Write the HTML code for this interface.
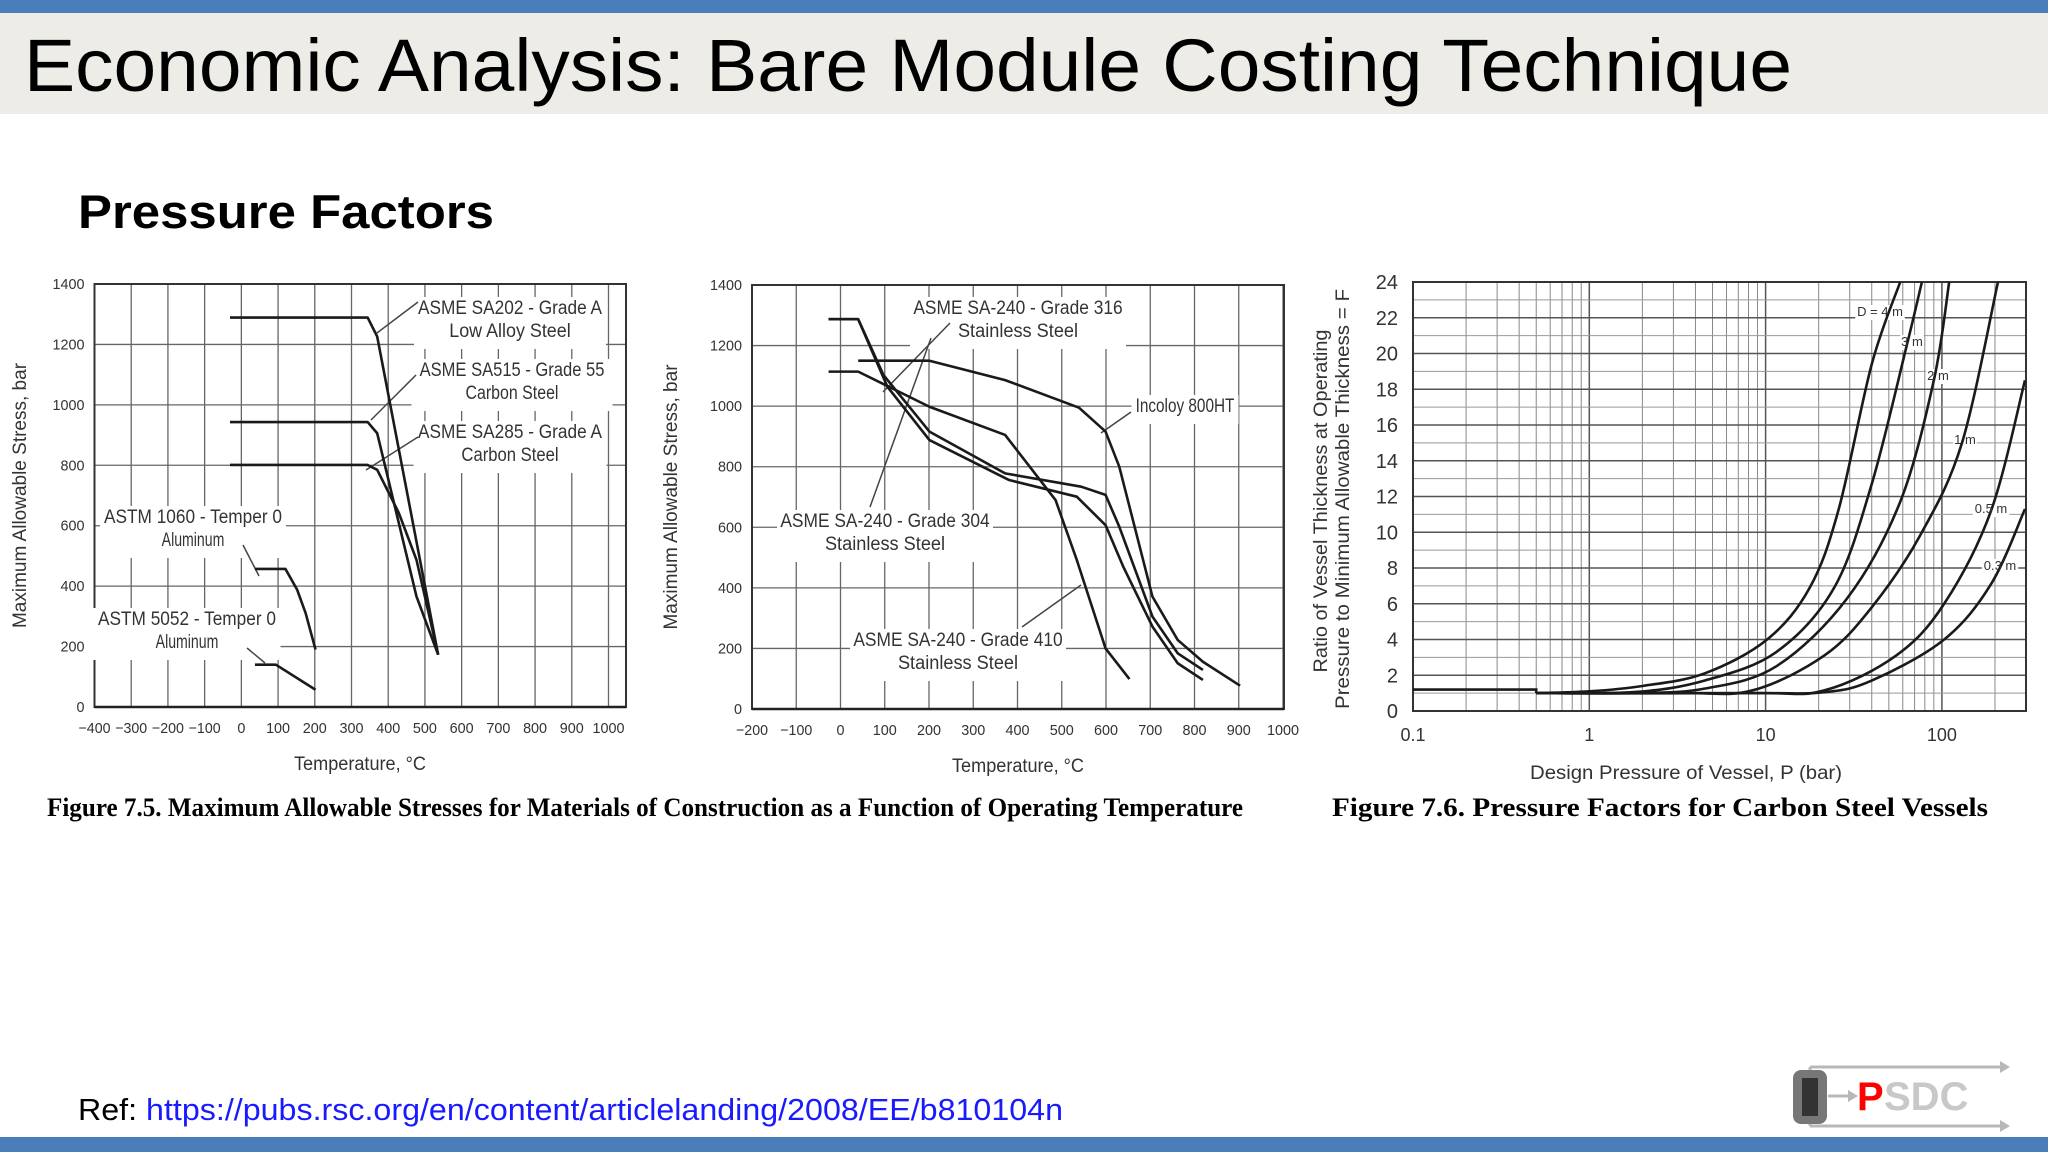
<!DOCTYPE html>
<html><head><meta charset="utf-8"><style>
html,body{margin:0;padding:0;background:#fff;}
svg{display:block;font-family:"Liberation Sans",sans-serif;}
</style></head><body>
<svg id="s" width="2048" height="1152" viewBox="0 0 2048 1152" xmlns="http://www.w3.org/2000/svg">
<rect x="0" y="0" width="2048" height="13" fill="#4a7ebb"/>
<rect x="0" y="13" width="2048" height="101" fill="#edece6"/>
<text x="24" y="91" font-size="74" fill="#000" textLength="1768" lengthAdjust="spacingAndGlyphs">Economic Analysis: Bare Module Costing Technique</text>
<text x="78" y="228" font-size="47" font-weight="bold" fill="#000" textLength="416" lengthAdjust="spacingAndGlyphs">Pressure Factors</text>
<text x="47" y="816" font-family="Liberation Serif, serif" font-size="26" font-weight="bold" textLength="1196" lengthAdjust="spacingAndGlyphs">Figure 7.5. Maximum Allowable Stresses for Materials of Construction as a Function of  Operating Temperature</text>
<text x="1332" y="816" font-family="Liberation Serif, serif" font-size="26" font-weight="bold" textLength="656" lengthAdjust="spacingAndGlyphs">Figure 7.6. Pressure Factors for Carbon Steel Vessels</text>
<text x="78" y="1120" font-size="31" textLength="985" lengthAdjust="spacingAndGlyphs">Ref: <tspan fill="#1a1aff">https://pubs.rsc.org/en/content/articlelanding/2008/EE/b810104n</tspan></text>
<rect x="0" y="1137" width="2048" height="15" fill="#4a7ebb"/>
<g>
<path d="M1810 1067 H2000 M1810 1126 H2000 M1810 1067 V1126 M1828 1096 H1850" stroke="#b8b8b8" stroke-width="3" fill="none"/>
<polygon points="2000,1061 2010,1067 2000,1073" fill="#b8b8b8"/><polygon points="2000,1120 2010,1126 2000,1132" fill="#b8b8b8"/><polygon points="1848,1090 1858,1096 1848,1102" fill="#b8b8b8"/>
<rect x="1793" y="1070" width="34" height="54" rx="8" fill="#777"/><rect x="1802" y="1078" width="16" height="38" fill="#333"/>
<text x="1857" y="1110" font-size="40" font-weight="bold" fill="#f00">P</text><text x="1884" y="1110" font-size="40" font-weight="bold" fill="#c8c8c8">SDC</text>
</g>
<g id="c1"></g>
<g id="c2"></g>
<g id="c3"></g>
</svg>
<script>
// Chart 1 data
const c1Ticks=[-400,-300,-200,-100,0,100,200,300,400,500,600,700,800,900,1000];
const c1YTicks=[0,200,400,600,800,1000,1200,1400];
const sa202T=[-31,344,370,536]; const sa202S=[1289,1289,1226,173];
const sa515T=[-31,344,370,477,536]; const sa515S=[943,943,906,366,173];
const sa285T=[-31,344,370,429,477,536]; const sa285S=[801,801,785,642,487,173];
const a1060T=[37,120,152,175,202]; const a1060S=[457,457,388,311,190];
const a5052T=[37,94,202]; const a5052S=[140,140,57];
// Chart 2 data
const c2Ticks=[-200,-100,0,100,200,300,400,500,600,700,800,900,1000];
const c2YTicks=[0,200,400,600,800,1000,1200,1400];
const incT=[40,201,372,539,599,630,705,762,819,903]; const incS=[1150,1150,1086,995,916,800,371,228,156,77];
const g316T=[-27,40,97,201,372,544,599,630,705,762,819]; const g316S=[1287,1287,1103,916,778,734,707,602,305,184,129];
const g304T=[-27,40,106,201,381,534,599,639,705,762,819]; const g304S=[1287,1287,1064,888,756,701,607,470,272,151,96];
const g410T=[-27,40,201,372,486,534,599,653]; const g410S=[1114,1114,998,905,690,492,200,99];
// Chart 3 data
const c3XTicks=[0.1,1,10,100]; const c3XLabels=["0.1","1","10","100"];
const c3YTicks=[0,2,4,6,8,10,12,14,16,18,20,22,24];
const flatP=[0.1,0.5]; const flatF=[1.2,1.2];
const d4P=[0.5,1,2,4.5,10.2,17.8,26,40,58]; const d4F=[1,1.1,1.4,2.1,4,6.9,11.3,19.4,24];
const d3P=[0.5,1.8,4.5,11.5,24.5,40,63,77]; const d3F=[1,1.06,1.7,3.3,6.9,12.7,20.4,24];
const d2P=[0.5,1.8,4.5,11.5,29,58,90,110]; const d2F=[1,1.0,1.25,2.5,6.3,11.7,18.5,24];
const d1P=[0.5,3.3,8.4,21.5,40,75,130,208]; const d1F=[1,1.0,1.15,3.1,5.8,9.8,15,24];
const d05P=[0.5,8.4,21.5,55,103,190,296]; const d05F=[1,1.0,1.15,3.1,6,11.2,18.5];
const d03P=[0.5,8.4,21.5,40,103,190,296]; const d03F=[1,1.0,1.05,1.7,4.0,7.1,11.3];

const NS="http://www.w3.org/2000/svg";
function mk(p,tag,at){const e=document.createElementNS(NS,tag);for(const k in at)e.setAttribute(k,at[k]);p.appendChild(e);return e;}
function txt(p,x,y,s,size,anchor,extra){const t=mk(p,'text',Object.assign({x:x,y:y,'font-size':size,'text-anchor':anchor||'start',fill:'#333'},extra||{}));t.textContent=s;return t;}
function smooth(pts){let d='M'+pts[0][0]+' '+pts[0][1];for(let i=0;i<pts.length-1;i++){const p0=pts[Math.max(0,i-1)],p1=pts[i],p2=pts[i+1],p3=pts[Math.min(pts.length-1,i+2)];const c1x=p1[0]+(p2[0]-p0[0])/6,c1y=p1[1]+(p2[1]-p0[1])/6,c2x=p2[0]-(p3[0]-p1[0])/6,c2y=p2[1]-(p3[1]-p1[1])/6;d+=' C'+c1x+' '+c1y+' '+c2x+' '+c2y+' '+p2[0]+' '+p2[1];}return d;}

function stressChart(g,X0,X1,XR,Y0,Y1,tmin,tmax,xt,yt,ytitleX,xtitleX,series,names,labels){
  const sx=t=>X0+(t-tmin)/(tmax-tmin)*(X1-X0); const sy=v=>Y0+(1400-v)/1400*(Y1-Y0);
  xt.forEach(t=>{const l=mk(g,'line',{x1:sx(t),x2:sx(t),y1:Y0,y2:Y1,stroke:'#666','stroke-width':1.3});});
  yt.forEach(v=>{const l=mk(g,'line',{x1:X0,x2:XR,y1:sy(v),y2:sy(v),stroke:'#666','stroke-width':1.3});});
  mk(g,'rect',{x:X0,y:Y0,width:XR-X0,height:Y1-Y0,fill:'none',stroke:'#333','stroke-width':2});
  mk(g,'line',{x1:X0,x2:XR,y1:Y1,y2:Y1,stroke:'#222','stroke-width':2.5});
  xt.forEach(t=>{const s=String(t).replace('-','\u2212');const e=txt(g,sx(t),Y1+26,s,15,'middle',{textLength:(s.length*8),lengthAdjust:'spacingAndGlyphs'});});
  yt.forEach(v=>{const e=txt(g,X0-10,sy(v)+5,String(v),15,'end',{textLength:(String(v).length*8),lengthAdjust:'spacingAndGlyphs'});});
  const yt1=txt(g,0,0,'Maximum Allowable Stress, bar',19,'middle',{transform:'translate('+ytitleX+','+((Y0+Y1)/2)+') rotate(-90)'});
  
  const xt1=txt(g,xtitleX,Y1+63,'Temperature, \u00B0C',19,'middle',{textLength:132,lengthAdjust:'spacingAndGlyphs'});
  
  labels.forEach(L=>{
    mk(g,'rect',{x:L.x-L.w/2-4,y:L.y-17,width:L.w+8,height:L.lines.length*23+6,fill:'#fff'});
    L.lines.forEach((s,i)=>{const e=txt(g,L.x,L.y+i*23,s,19,'middle',{textLength:s.length*(i?L.cw*0.88:L.cw),lengthAdjust:'spacingAndGlyphs'});});
    L.l.forEach(q=>{const l=mk(g,'line',{x1:q[0],y1:q[1],x2:q[2],y2:q[3],stroke:'#444','stroke-width':1.5});
    });
  });
  series.forEach((s,i)=>{const pts=s[0].map((t,j)=>sx(t)+','+sy(s[1][j])).join(' ');const p=mk(g,'polyline',{points:pts,fill:'none',stroke:'#1a1a1a','stroke-width':2.6,'stroke-linejoin':'round'});});
}
stressChart(document.getElementById('c1'),94.5,608.5,626,284,707,-400,1000,c1Ticks,c1YTicks,26,360,
 [[sa202T,sa202S],[sa515T,sa515S],[sa285T,sa285S],[a1060T,a1060S],[a5052T,a5052S]],
 ['line-sa202','line-sa515','line-sa285','line-astm1060','line-astm5052'],
 [{x:510,y:314,w:184,cw:9.2,lines:['ASME SA202 - Grade A','Low Alloy Steel'],l:[[418,302,377,333]]},
  {x:512,y:376,w:193,cw:8.8,lines:['ASME SA515 - Grade 55','Carbon Steel'],l:[[416,375,371,420]]},
  {x:510,y:438,w:185,cw:9.2,lines:['ASME SA285 - Grade A','Carbon Steel'],l:[[418,437,366,470]]},
  {x:193,y:523,w:178,cw:8.9,lines:['ASTM 1060 - Temper 0','Aluminum'],l:[[243,545,259,576]]},
  {x:187,y:625,w:179,cw:8.9,lines:['ASTM 5052 - Temper 0','Aluminum'],l:[[247,648,265,663]]}]);
stressChart(document.getElementById('c2'),752,1283,1284,285,709,-200,1000,c2Ticks,c2YTicks,677,1018,
 [[incT,incS],[g316T,g316S],[g304T,g304S],[g410T,g410S]],
 ['line-incoloy-800ht','line-grade-316','line-grade-304','line-grade-410'],
 [{x:1018,y:314,w:208,cw:9.1,lines:['ASME SA-240 - Grade 316','Stainless Steel'],l:[[950,323,883,392]]},
  {x:885,y:527,w:208,cw:9.1,lines:['ASME SA-240 - Grade 304','Stainless Steel'],l:[[870,507,931,338]]},
  {x:1185,y:412,w:99,cw:7.6,lines:['Incoloy 800HT'],l:[[1131,412,1101,433]]},
  {x:958,y:646,w:208,cw:9.1,lines:['ASME SA-240 - Grade 410','Stainless Steel'],l:[[1022,627,1081,585]]}]);

// Chart 3
(function(){
 const g=document.getElementById('c3');
 const X0=1413,DEC=176.3,XR=2026,Y0=282,Y1=711,FMAX=24;
 const sx=p=>X0+(Math.log10(p)+1)*DEC; const sy=f=>Y1-f/FMAX*(Y1-Y0);
 for(let e=-1;e<=2;e++)for(let m=1;m<=9;m++){const p=m*Math.pow(10,e);const x=sx(p);if(x>XR)break;
   const l=mk(g,'line',{x1:x,x2:x,y1:Y0,y2:Y1,stroke:m===1?'#555':'#888','stroke-width':m===1?1.5:1});}
 for(let f=0;f<=FMAX;f++){const l=mk(g,'line',{x1:X0,x2:XR,y1:sy(f),y2:sy(f),stroke:f%2?'#999':'#555','stroke-width':f%2?1:1.5});}
 mk(g,'rect',{x:X0,y:Y0,width:XR-X0,height:Y1-Y0,fill:'none',stroke:'#333','stroke-width':2});
 c3XTicks.forEach((p,i)=>{const e=txt(g,sx(p),Y1+30,c3XLabels[i],18,'middle');});
 c3YTicks.forEach(f=>{const e=txt(g,1398,sy(f)+7,String(f),20,'end');});
 let e=txt(g,0,0,'Ratio of Vessel Thickness at Operating',19,'middle',{transform:'translate(1327,501) rotate(-90)',textLength:343,lengthAdjust:'spacingAndGlyphs'});
 
 e=txt(g,0,0,'Pressure to Minimum Allowable Thickness  =  F',19,'middle',{transform:'translate(1349,499) rotate(-90)',textLength:420,lengthAdjust:'spacingAndGlyphs'});
 
 e=txt(g,1686,779,'Design Pressure of Vessel, P  (bar)',19,'middle',{textLength:312,lengthAdjust:'spacingAndGlyphs'});
 
 const flat=mk(g,'polyline',{points:flatP.map((p,j)=>sx(p)+','+sy(flatF[j])).join(' ')+' '+sx(0.5)+','+sy(1),fill:'none',stroke:'#1a1a1a','stroke-width':2.6});
 
 const curves=[[d4P,d4F,'D = 4 m',1880,316],[d3P,d3F,'3 m',1912,346],[d2P,d2F,'2 m',1938,380],[d1P,d1F,'1 m',1965,444],[d05P,d05F,'0.5 m',1991,513],[d03P,d03F,'0.3 m',2000,570]];
 const cnames=['curve-d-4m','curve-d-3m','curve-d-2m','curve-d-1m','curve-d-0-5m','curve-d-0-3m'];
 const lnames=['label-d-4m','label-d-3m','label-d-2m','label-d-1m','label-d-0-5m','label-d-0-3m'];
 curves.forEach((c,i)=>{
   const w=c[2].length*6.5;
   mk(g,'rect',{x:c[3]-w/2-2,y:c[4]-11,width:w+4,height:15,fill:'#fff'});
   const p=mk(g,'path',{d:smooth(c[0].map((P,j)=>[sx(P),sy(c[1][j])])),fill:'none',stroke:'#1a1a1a','stroke-width':2.6});
   
   const t=txt(g,c[3],c[4],c[2],13,'middle');
   
 });
})();
</script>
</body></html>
